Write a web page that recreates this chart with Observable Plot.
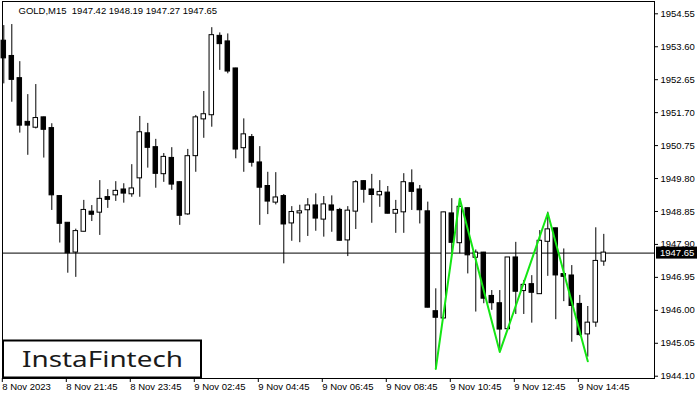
<!DOCTYPE html>
<html><head><meta charset="utf-8">
<script src="https://cdn.jsdelivr.net/npm/d3@7"></script>
<script src="https://cdn.jsdelivr.net/npm/@observablehq/plot@0.6"></script>
<style>
html,body{margin:0;padding:0;background:#fff;}
#chart{position:relative;width:700px;height:400px;overflow:hidden;}
</style></head><body><div id="chart"></div>
<script>
// ---- data (GOLD, M15) ----
const symbolTitle = "GOLD,M15  1947.42 1948.19 1947.27 1947.65";
const openP  = [1953.76,1953.32,1952.68,1951.42,1951.28,1951.55,1951.24,1949.28,1948.51,1947.68,
                1948.28,1948.83,1948.83,1949.25,1949.33,1949.47,1949.36,1949.82,1951.09,1950.69,
                1949.94,1950.38,1949.68,1948.78,1950.46,1951.52,1951.64,1953.90,1953.74,1952.96,
                1950.69,1950.98,1950.25,1949.57,1949.12,1949.28,1948.52,1948.81,1948.90,1949.01,
                1948.63,1949.01,1948.88,1948.03,1948.86,1949.71,1949.47,1949.33,1949.38,1948.80,
                1948.84,1949.65,1949.47,1948.84,1945.96,1945.78,1948.78,1947.95,1948.93,1947.53,
                1947.65,1946.40,1946.19,1945.47,1947.51,1946.57,1946.74,1946.48,1947.99,1948.35,
                1947.03,1946.99,1946.17,1945.32,1945.66,1947.42];
const highP  = [1954.21,1954.24,1953.17,1952.22,1952.51,1951.57,1951.38,1949.30,1948.53,1948.34,
                1949.17,1949.02,1949.74,1949.48,1949.71,1949.65,1950.20,1951.59,1951.39,1950.93,
                1950.52,1950.69,1949.71,1950.64,1951.62,1952.31,1954.15,1954.00,1953.97,1952.98,
                1951.52,1951.07,1950.72,1949.98,1949.97,1949.34,1948.99,1949.03,1949.22,1949.36,
                1949.28,1949.30,1948.94,1948.99,1949.74,1949.74,1949.92,1949.74,1949.57,1949.17,
                1949.94,1950.05,1949.60,1949.12,1946.62,1948.83,1949.22,1949.22,1948.95,1947.74,
                1947.67,1946.57,1946.57,1947.51,1947.96,1946.86,1947.00,1948.30,1948.83,1948.37,
                1947.77,1947.29,1946.43,1946.11,1948.38,1948.19];
const lowP   = [1952.53,1952.00,1951.11,1950.47,1951.23,1950.39,1948.88,1947.94,1947.07,1946.95,
                1948.26,1948.56,1948.16,1948.94,1949.14,1949.09,1949.26,1949.26,1950.10,1949.52,
                1949.69,1949.46,1948.45,1948.74,1949.98,1950.96,1951.28,1952.92,1952.82,1950.37,
                1949.98,1950.13,1948.45,1948.76,1949.04,1947.34,1947.99,1947.95,1948.13,1948.28,
                1948.11,1948.25,1948.00,1947.55,1948.33,1949.09,1948.51,1948.97,1948.78,1948.22,
                1948.22,1948.88,1948.49,1946.07,1944.31,1945.75,1947.58,1947.63,1947.05,1945.95,
                1946.19,1946.00,1944.89,1945.45,1945.88,1945.88,1945.63,1946.46,1946.98,1945.73,
                1946.25,1945.08,1945.25,1944.65,1945.51,1947.27];
const closeP = [1953.28,1952.66,1951.34,1951.34,1951.53,1951.22,1949.33,1948.51,1947.66,1948.27,
                1948.88,1948.77,1949.20,1949.20,1949.43,1949.38,1949.50,1951.12,1950.70,1949.95,
                1950.41,1949.64,1948.74,1950.43,1951.55,1951.64,1953.92,1953.69,1952.90,1950.65,
                1951.06,1950.27,1949.55,1949.15,1949.24,1948.49,1948.82,1948.84,1949.01,1948.66,
                1949.04,1948.89,1948.02,1948.86,1949.68,1949.49,1949.34,1949.40,1948.80,1948.88,
                1949.68,1949.43,1948.90,1946.09,1945.80,1948.81,1947.96,1948.97,1947.60,1947.65,
                1946.35,1946.22,1945.46,1947.51,1946.55,1946.72,1946.52,1947.99,1948.32,1947.02,
                1946.98,1946.14,1945.30,1945.63,1947.41,1947.65];
// pattern (zigzag) pivots: bar index and price
const zigBars   = [54, 57, 62, 68, 73];
const zigPrices = [1944.31, 1949.22, 1944.80, 1948.80, 1944.53];
// axis ticks
const yTicks = [1954.55,1953.60,1952.65,1951.70,1950.75,1949.80,1948.85,1947.90,1946.95,1946.00,1945.05,1944.10];
const xTickBars = [0, 8, 16, 24, 32, 40, 48, 56, 64, 72];
const xTickLabels = ["8 Nov 2023","8 Nov 21:45","8 Nov 23:45","9 Nov 02:45","9 Nov 04:45",
                     "9 Nov 06:45","9 Nov 08:45","9 Nov 10:45","9 Nov 12:45","9 Nov 14:45"];
const lastPrice = 1947.65;
const logoText = "InstaFintech";

// ---- build ----
const bars = openP.map((o, i) => ({i, o, h: highP[i], l: lowP[i], c: closeP[i]}));
const zig = zigBars.map((b, k) => ({i: b, v: zigPrices[k]}));
const FONT = '"Liberation Sans", Arial, sans-serif';

const plot = Plot.plot({
  width: 700, height: 400,
  marginLeft: 2, marginRight: 46, marginTop: 1, marginBottom: 22,
  x: {domain: [-0.1625, 81.34], axis: null},
  y: {domain: [1944.034, 1954.905], axis: null},
  style: {fontFamily: FONT, fontSize: "9.5px", background: "#fff", color: "#000"},
  marks: [
    Plot.ruleY([lastPrice], {stroke: "#000", strokeWidth: 1}),
    Plot.ruleX(bars, {x: "i", y1: "l", y2: "h", stroke: "#000", strokeWidth: 1}),
    Plot.rect(bars, {
      x1: d => d.i - 0.28, x2: d => d.i + 0.28, y1: "o", y2: "c",
      insetTop: -0.5, insetBottom: -0.5,
      fill: d => d.c >= d.o ? "#fff" : "#000", stroke: "#000", strokeWidth: 1
    }),
    Plot.line(zig, {x: "i", y: "v", stroke: "#14e614", strokeWidth: 2}),
    Plot.axisY(yTicks, {anchor: "right", tickSize: 3, tickPadding: 3, label: null,
      tickFormat: d => d.toFixed(2), fontSize: 9.5, fill: "#000"}),
    Plot.axisX(xTickBars, {anchor: "bottom", tickSize: 4, tickPadding: 1, label: null,
      tickFormat: d => xTickLabels[xTickBars.indexOf(d)], textAnchor: "start", dx: -1.5, fontSize: 9.5}),
    Plot.frame({stroke: "#000"}),
    Plot.text([symbolTitle], {frameAnchor: "top-left", dx: 16, dy: 6, lineAnchor: "top",
      textAnchor: "start", text: d => d, fontSize: 9.5, fill: "#000"})
  ]
});

document.getElementById("chart").appendChild(plot);

// price label on the right axis, positioned through the y scale
const svg = d3.select(plot);
const yS = plot.scale("y");
const py = yS.apply(lastPrice);
svg.append("rect").attr("x", 656).attr("y", py - 6).attr("width", 41).attr("height", 12).attr("fill", "#000");
svg.append("text").attr("x", 660).attr("y", py).attr("dy", "0.35em").attr("text-anchor", "start")
  .attr("fill", "#fff").attr("font-family", FONT).attr("font-size", 9.5).text(lastPrice.toFixed(2));

// logo box
const g = svg.append("g");
g.append("rect").attr("x", 3).attr("y", 340.5).attr("width", 198).attr("height", 37)
  .attr("fill", "#fff").attr("stroke", "#000").attr("stroke-width", 2);
g.append("text").attr("x", 22).attr("y", 366.5).attr("text-anchor", "start")
  .attr("font-family", '"Noto Sans", Inter, sans-serif').attr("font-weight", 400)
  .attr("font-size", 22).attr("fill", "#1a1a1a")
  .attr("textLength", 161).attr("lengthAdjust", "spacingAndGlyphs")
  .text(logoText);
</script></body></html>
